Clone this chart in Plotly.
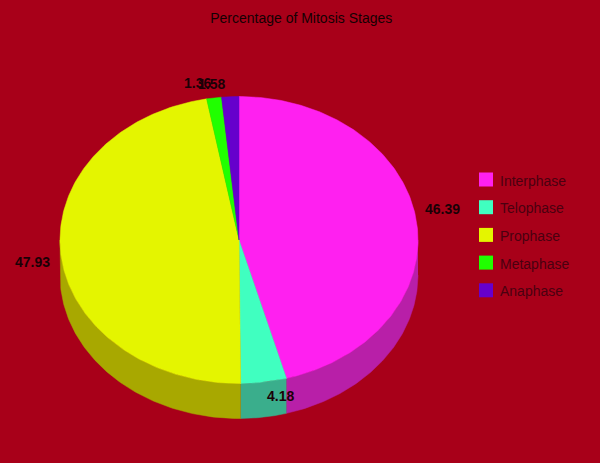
import numpy as np
import plotly.graph_objects as go

stages = ["Interphase", "Telophase", "Prophase", "Metaphase", "Anaphase"]
percentages = [46.39, 4.18, 47.93, 1.36, 1.58]
top_colors = ["#ff20f0", "#40ffc0", "#e4f500", "#20ff00", "#6600cc"]
side_colors = ["#b81fa8", "#3aae8c", "#a8a800", "#16b000", "#470090"]
label_shifts = [(-1, -12), (-7, 14), (-1, 8), (7, -15), (5, -13)]

BG = "#a80019"
CX, CY = 239, 240
RX, RY = 179, 143.5
DEPTH = 35
LEGEND_X, LEGEND_TOP, LEGEND_STEP = 486, 179.5, 27.7
LEGEND_TEXT_X = 500


def rim(a, dy=0):
    return CX + RX * np.sin(a), CY - RY * np.cos(a) + dy


fractions = np.array(percentages) / sum(percentages)
ends = np.cumsum(fractions) * 2 * np.pi
starts = ends - fractions * 2 * np.pi

fig = go.Figure()

# side wall, only the front half of the disc shows
for start, end, color in zip(starts, ends, side_colors):
    lo, hi = max(start, np.pi / 2), min(end, 3 * np.pi / 2)
    if hi <= lo:
        continue
    a = np.linspace(lo, hi, 120)
    x1, y1 = rim(a)
    x2, y2 = rim(a[::-1], DEPTH)
    fig.add_trace(go.Scatter(
        x=np.r_[x1, x2], y=np.r_[y1, y2], mode="lines", fill="toself",
        fillcolor=color, line=dict(color=color, width=0.5),
        hoverinfo="skip", showlegend=False
    ))

# top of the pie
for start, end, color in zip(starts, ends, top_colors):
    a = np.linspace(start, end, 200)
    x, y = rim(a)
    fig.add_trace(go.Scatter(
        x=np.r_[CX, x, CX], y=np.r_[CY, y, CY], mode="lines", fill="toself",
        fillcolor=color, line=dict(color=color, width=0.5),
        hoverinfo="skip", showlegend=False
    ))

# legend column, plotly's own legend can't get the text this close to the swatch
for i, (name, color) in enumerate(zip(stages, top_colors)):
    y = LEGEND_TOP + i * LEGEND_STEP
    fig.add_trace(go.Scatter(
        x=[LEGEND_X], y=[y], mode="markers",
        marker=dict(symbol="square", size=14, color=color),
        hoverinfo="skip", showlegend=False
    ))
    fig.add_annotation(
        x=LEGEND_TEXT_X, y=y + 1, text=name, showarrow=False,
        xanchor="left", yanchor="middle", xshift=-2,
        font=dict(size=14, color="#4a0010", family="Liberation Sans")
    )

# value labels
for value, start, end, shift in zip(percentages, starts, ends, label_shifts):
    mid = (start + end) / 2
    x, y = rim(mid)
    right = np.sin(mid) > 0
    fig.add_annotation(
        x=x, y=y, text=f"<b>{value:.2f}</b>", showarrow=False,
        xanchor="left" if right else "right", yanchor="middle",
        xshift=shift[0] + (8 if right else -8), yshift=-shift[1],
        font=dict(size=14, color="#1a0006", family="Liberation Sans")
    )

fig.update_layout(
    width=600, height=463,
    margin=dict(l=0, r=0, t=0, b=0),
    paper_bgcolor=BG, plot_bgcolor=BG,
    font=dict(family="Liberation Sans", size=14, color="#4a0010"),
    title=dict(text="Percentage of Mitosis Stages", x=0.502, xanchor="center",
               y=0.961, yanchor="middle", font=dict(size=14, color="#140003")),
    showlegend=False,
    xaxis=dict(range=[0, 600], visible=False, fixedrange=True),
    yaxis=dict(range=[463, 0], visible=False, fixedrange=True),
)

fig.write_html("out.html", config=dict(displayModeBar=False),
               post_script="document.body.style.margin='0';")
